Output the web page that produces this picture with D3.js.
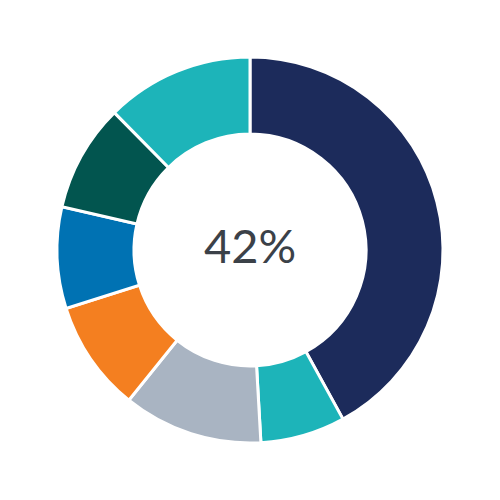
<!DOCTYPE html>
<html>
<head>
<meta charset="utf-8">
<script src="https://cdn.jsdelivr.net/npm/d3@7"></script>
<style>
  html, body { margin: 0; padding: 0; background: #fff; }
</style>
</head>
<body>
<svg id="donutChart" width="500" height="500"></svg>
<script>
// 조각 값 (12시 방향부터 시계방향)
var labels = ["A", "B", "C", "D", "E", "F", "G"];
var values = [42, 7.1, 11.7, 9.3, 8.5, 9.0, 12.4];
var colors = ["#1c2b5b", "#1db4b9", "#a9b4c2", "#f47f20", "#0072b3", "#02554f", "#1db4b9"];
var centerLabel = "42%";

var width = 500, height = 500;
var outerRadius = 193, innerRadius = 116;

var data = labels.map((d, i) => ({ label: d, value: values[i] }));

var color = d3.scaleOrdinal()
	.domain(labels)
	.range(colors);

var svg = d3.select("#donutChart")
	.append("g")
	.attr("transform", `translate(${width / 2},${height / 2})`);

var pie = d3.pie()
	.sort(null)
	.value(d => d.value);

var arc = d3.arc()
	.outerRadius(outerRadius)
	.innerRadius(innerRadius);

svg.selectAll(".arc")
	.data(pie(data))
	.enter().append("path")
	.attr("class", "arc")
	.attr("d", arc)
	.style("fill", d => color(d.data.label))
	.style("stroke", "#fff")
	.style("stroke-width", 3);

// 중앙 퍼센트
svg.append("text")
	.attr("text-anchor", "middle")
	.attr("y", 13)
	.style("font-family", "Lato, sans-serif")
	.style("font-size", "47px")
	.style("fill", "#3b4148")
	.text(centerLabel);
</script>
</body>
</html>
